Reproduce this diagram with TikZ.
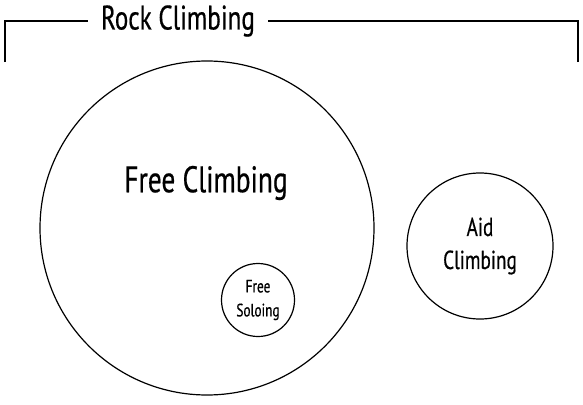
\documentclass[tikz,border=0pt]{standalone}
\usepackage{fontspec}
\setmainfont{PT Sans}[FakeStretch=0.74, FakeBold=0.5]
\usetikzlibrary{positioning}

\begin{document}
\begin{tikzpicture}[
		x=1pt, y=-1pt,
		ring/.style={draw, circle, line width=1.2pt, inner sep=0pt},
		frame/.style={line width=1.2pt},
		bigtext/.style={font=\fontsize{35}{40}\selectfont},
	]
		\useasboundingbox (0,0) rectangle (583,404);
		\node[bigtext, font=\fontsize{34}{40}\selectfont, inner sep=13pt] (rock) at (178,21) {Rock Climbing};
		\coordinate (bl) at (5,62);
		\coordinate (br) at (578,62);
		
		\node[ring, minimum size=334pt] (free) at (207,228) {};
		\node[bigtext, font=\fontsize{37}{40}\selectfont] (freelbl) at (206,183) {Free Climbing};
		\node[ring, minimum size=73pt, align=center, font=\fontsize{18}{24}\selectfont] (solo) at (258,300) {Free\\Soloing};
		\node[ring, minimum size=146pt, align=center, font=\fontsize{26}{33}\selectfont] (aid) at (480,246) {Aid\\Climbing};
		
		\draw[frame] (bl) |- (rock.west);
		\draw[frame] (br) |- (rock.east);
\end{tikzpicture}
\end{document}
